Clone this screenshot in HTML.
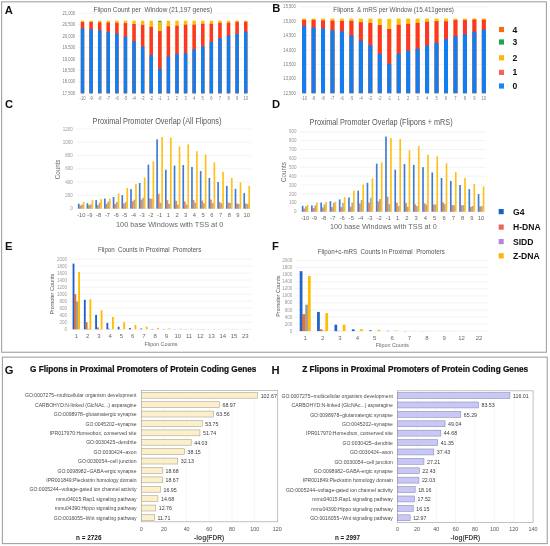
<!DOCTYPE html><html><head><meta charset="utf-8"><style>html,body{margin:0;padding:0;background:#fff;width:550px;height:546px;overflow:hidden}svg{display:block;will-change:transform}</style></head><body><svg width="550" height="546" viewBox="0 0 550 546" style="font-family:&quot;Liberation Sans&quot;,sans-serif">
<rect width="550" height="546" fill="#fff"/>
<rect x="1.6" y="1.8" width="544.8" height="350.45" fill="none" stroke="#a2a2a2" stroke-width="1.1"/>
<rect x="2.4" y="357.15" width="544.85" height="186.45" fill="none" stroke="#a2a2a2" stroke-width="1.1"/>
<text x="4.70" y="14.10" font-size="11.2" font-weight="bold" fill="#111">A</text>
<text x="272.30" y="11.80" font-size="11.2" font-weight="bold" fill="#111">B</text>
<text x="5.00" y="107.80" font-size="11.2" font-weight="bold" fill="#111">C</text>
<text x="272.10" y="107.60" font-size="11.2" font-weight="bold" fill="#111">D</text>
<text x="4.90" y="250.10" font-size="11.2" font-weight="bold" fill="#111">E</text>
<text x="272.00" y="250.00" font-size="11.2" font-weight="bold" fill="#111">F</text>
<text x="4.80" y="373.80" font-size="11.2" font-weight="bold" fill="#111">G</text>
<text x="271.40" y="373.60" font-size="11.2" font-weight="bold" fill="#111">H</text>
<text x="93.50" y="12.03" font-size="7.26" fill="#555" textLength="118.70" lengthAdjust="spacingAndGlyphs" style="white-space:pre">Flipon Count per  Window (21,197 genes)</text>
<text x="75.00" y="94.84" font-size="4.71" fill="#7a7a7a" text-anchor="end" textLength="12.54" lengthAdjust="spacingAndGlyphs">17,500</text>
<line x1="78.00" y1="81.86" x2="250.50" y2="81.86" stroke="#e6e6e6" stroke-width="0.5"/>
<text x="75.00" y="83.40" font-size="4.71" fill="#7a7a7a" text-anchor="end" textLength="12.54" lengthAdjust="spacingAndGlyphs">18,000</text>
<line x1="78.00" y1="70.42" x2="250.50" y2="70.42" stroke="#e6e6e6" stroke-width="0.5"/>
<text x="75.00" y="71.96" font-size="4.71" fill="#7a7a7a" text-anchor="end" textLength="12.54" lengthAdjust="spacingAndGlyphs">18,500</text>
<line x1="78.00" y1="58.98" x2="250.50" y2="58.98" stroke="#e6e6e6" stroke-width="0.5"/>
<text x="75.00" y="60.52" font-size="4.71" fill="#7a7a7a" text-anchor="end" textLength="12.54" lengthAdjust="spacingAndGlyphs">19,000</text>
<line x1="78.00" y1="47.54" x2="250.50" y2="47.54" stroke="#e6e6e6" stroke-width="0.5"/>
<text x="75.00" y="49.08" font-size="4.71" fill="#7a7a7a" text-anchor="end" textLength="12.54" lengthAdjust="spacingAndGlyphs">19,500</text>
<line x1="78.00" y1="36.10" x2="250.50" y2="36.10" stroke="#e6e6e6" stroke-width="0.5"/>
<text x="75.00" y="37.64" font-size="4.71" fill="#7a7a7a" text-anchor="end" textLength="12.54" lengthAdjust="spacingAndGlyphs">20,000</text>
<line x1="78.00" y1="24.66" x2="250.50" y2="24.66" stroke="#e6e6e6" stroke-width="0.5"/>
<text x="75.00" y="26.20" font-size="4.71" fill="#7a7a7a" text-anchor="end" textLength="12.54" lengthAdjust="spacingAndGlyphs">20,500</text>
<line x1="78.00" y1="13.22" x2="250.50" y2="13.22" stroke="#e6e6e6" stroke-width="0.5"/>
<text x="75.00" y="14.76" font-size="4.71" fill="#7a7a7a" text-anchor="end" textLength="12.54" lengthAdjust="spacingAndGlyphs">21,000</text>
<rect x="80.80" y="20.70" width="3.40" height="72.60" fill="#fdbf06" />
<rect x="80.80" y="22.00" width="3.40" height="71.30" fill="#fb3727" />
<rect x="80.80" y="28.30" width="3.40" height="65.00" fill="#0e7ef4" />
<text x="82.50" y="99.84" font-size="4.71" fill="#7a7a7a" text-anchor="middle" textLength="5.93" lengthAdjust="spacingAndGlyphs">-10</text>
<rect x="89.39" y="20.70" width="3.40" height="72.60" fill="#fdbf06" />
<rect x="89.39" y="22.00" width="3.40" height="71.30" fill="#fb3727" />
<rect x="89.39" y="29.40" width="3.40" height="63.90" fill="#0e7ef4" />
<text x="91.09" y="99.84" font-size="4.71" fill="#7a7a7a" text-anchor="middle" textLength="3.65" lengthAdjust="spacingAndGlyphs">-9</text>
<rect x="97.98" y="20.70" width="3.40" height="72.60" fill="#fdbf06" />
<rect x="97.98" y="22.40" width="3.40" height="70.90" fill="#fb3727" />
<rect x="97.98" y="30.30" width="3.40" height="63.00" fill="#0e7ef4" />
<text x="99.68" y="99.84" font-size="4.71" fill="#7a7a7a" text-anchor="middle" textLength="3.65" lengthAdjust="spacingAndGlyphs">-8</text>
<rect x="106.57" y="20.70" width="3.40" height="72.60" fill="#fdbf06" />
<rect x="106.57" y="22.60" width="3.40" height="70.70" fill="#fb3727" />
<rect x="106.57" y="32.10" width="3.40" height="61.20" fill="#0e7ef4" />
<text x="108.27" y="99.84" font-size="4.71" fill="#7a7a7a" text-anchor="middle" textLength="3.65" lengthAdjust="spacingAndGlyphs">-7</text>
<rect x="115.16" y="20.70" width="3.40" height="72.60" fill="#fdbf06" />
<rect x="115.16" y="22.80" width="3.40" height="70.50" fill="#fb3727" />
<rect x="115.16" y="33.40" width="3.40" height="59.90" fill="#0e7ef4" />
<text x="116.86" y="99.84" font-size="4.71" fill="#7a7a7a" text-anchor="middle" textLength="3.65" lengthAdjust="spacingAndGlyphs">-6</text>
<rect x="123.75" y="20.70" width="3.40" height="72.60" fill="#fdbf06" />
<rect x="123.75" y="23.10" width="3.40" height="70.20" fill="#fb3727" />
<rect x="123.75" y="36.70" width="3.40" height="56.60" fill="#0e7ef4" />
<text x="125.45" y="99.84" font-size="4.71" fill="#7a7a7a" text-anchor="middle" textLength="3.65" lengthAdjust="spacingAndGlyphs">-5</text>
<rect x="132.34" y="20.70" width="3.40" height="72.60" fill="#fdbf06" />
<rect x="132.34" y="24.00" width="3.40" height="69.30" fill="#fb3727" />
<rect x="132.34" y="41.00" width="3.40" height="52.30" fill="#0e7ef4" />
<text x="134.04" y="99.84" font-size="4.71" fill="#7a7a7a" text-anchor="middle" textLength="3.65" lengthAdjust="spacingAndGlyphs">-4</text>
<rect x="140.93" y="20.70" width="3.40" height="72.60" fill="#fdbf06" />
<rect x="140.93" y="24.90" width="3.40" height="68.40" fill="#fb3727" />
<rect x="140.93" y="46.60" width="3.40" height="46.70" fill="#0e7ef4" />
<text x="142.63" y="99.84" font-size="4.71" fill="#7a7a7a" text-anchor="middle" textLength="3.65" lengthAdjust="spacingAndGlyphs">-3</text>
<rect x="149.52" y="20.70" width="3.40" height="72.60" fill="#fdbf06" />
<rect x="149.52" y="26.90" width="3.40" height="66.40" fill="#fb3727" />
<rect x="149.52" y="55.00" width="3.40" height="38.30" fill="#0e7ef4" />
<text x="151.22" y="99.84" font-size="4.71" fill="#7a7a7a" text-anchor="middle" textLength="3.65" lengthAdjust="spacingAndGlyphs">-2</text>
<rect x="158.11" y="20.80" width="3.40" height="72.50" fill="#1ea450" />
<rect x="158.11" y="21.80" width="3.40" height="71.50" fill="#fdbf06" />
<rect x="158.11" y="31.10" width="3.40" height="62.20" fill="#fb3727" />
<rect x="158.11" y="68.40" width="3.40" height="24.90" fill="#0e7ef4" />
<text x="159.81" y="99.84" font-size="4.71" fill="#7a7a7a" text-anchor="middle" textLength="3.65" lengthAdjust="spacingAndGlyphs">-1</text>
<rect x="166.70" y="20.70" width="3.40" height="72.60" fill="#fdbf06" />
<rect x="166.70" y="26.30" width="3.40" height="67.00" fill="#fb3727" />
<rect x="166.70" y="56.50" width="3.40" height="36.80" fill="#0e7ef4" />
<text x="168.40" y="99.84" font-size="4.71" fill="#7a7a7a" text-anchor="middle" textLength="2.28" lengthAdjust="spacingAndGlyphs">1</text>
<rect x="175.29" y="20.70" width="3.40" height="72.60" fill="#fdbf06" />
<rect x="175.29" y="25.70" width="3.40" height="67.60" fill="#fb3727" />
<rect x="175.29" y="54.00" width="3.40" height="39.30" fill="#0e7ef4" />
<text x="176.99" y="99.84" font-size="4.71" fill="#7a7a7a" text-anchor="middle" textLength="2.28" lengthAdjust="spacingAndGlyphs">2</text>
<rect x="183.88" y="20.70" width="3.40" height="72.60" fill="#fdbf06" />
<rect x="183.88" y="24.70" width="3.40" height="68.60" fill="#fb3727" />
<rect x="183.88" y="53.10" width="3.40" height="40.20" fill="#0e7ef4" />
<text x="185.58" y="99.84" font-size="4.71" fill="#7a7a7a" text-anchor="middle" textLength="2.28" lengthAdjust="spacingAndGlyphs">3</text>
<rect x="192.47" y="20.70" width="3.40" height="72.60" fill="#fdbf06" />
<rect x="192.47" y="24.70" width="3.40" height="68.60" fill="#fb3727" />
<rect x="192.47" y="49.30" width="3.40" height="44.00" fill="#0e7ef4" />
<text x="194.17" y="99.84" font-size="4.71" fill="#7a7a7a" text-anchor="middle" textLength="2.28" lengthAdjust="spacingAndGlyphs">4</text>
<rect x="201.06" y="20.70" width="3.40" height="72.60" fill="#fdbf06" />
<rect x="201.06" y="23.80" width="3.40" height="69.50" fill="#fb3727" />
<rect x="201.06" y="46.40" width="3.40" height="46.90" fill="#0e7ef4" />
<text x="202.76" y="99.84" font-size="4.71" fill="#7a7a7a" text-anchor="middle" textLength="2.28" lengthAdjust="spacingAndGlyphs">5</text>
<rect x="209.65" y="20.70" width="3.40" height="72.60" fill="#fdbf06" />
<rect x="209.65" y="23.80" width="3.40" height="69.50" fill="#fb3727" />
<rect x="209.65" y="41.90" width="3.40" height="51.40" fill="#0e7ef4" />
<text x="211.35" y="99.84" font-size="4.71" fill="#7a7a7a" text-anchor="middle" textLength="2.28" lengthAdjust="spacingAndGlyphs">6</text>
<rect x="218.24" y="20.70" width="3.40" height="72.60" fill="#fdbf06" />
<rect x="218.24" y="22.80" width="3.40" height="70.50" fill="#fb3727" />
<rect x="218.24" y="38.10" width="3.40" height="55.20" fill="#0e7ef4" />
<text x="219.94" y="99.84" font-size="4.71" fill="#7a7a7a" text-anchor="middle" textLength="2.28" lengthAdjust="spacingAndGlyphs">7</text>
<rect x="226.83" y="20.70" width="3.40" height="72.60" fill="#fdbf06" />
<rect x="226.83" y="22.80" width="3.40" height="70.50" fill="#fb3727" />
<rect x="226.83" y="35.50" width="3.40" height="57.80" fill="#0e7ef4" />
<text x="228.53" y="99.84" font-size="4.71" fill="#7a7a7a" text-anchor="middle" textLength="2.28" lengthAdjust="spacingAndGlyphs">8</text>
<rect x="235.42" y="20.70" width="3.40" height="72.60" fill="#fdbf06" />
<rect x="235.42" y="21.80" width="3.40" height="71.50" fill="#fb3727" />
<rect x="235.42" y="33.90" width="3.40" height="59.40" fill="#0e7ef4" />
<text x="237.12" y="99.84" font-size="4.71" fill="#7a7a7a" text-anchor="middle" textLength="2.28" lengthAdjust="spacingAndGlyphs">9</text>
<rect x="244.01" y="20.70" width="3.40" height="72.60" fill="#fdbf06" />
<rect x="244.01" y="21.80" width="3.40" height="71.50" fill="#fb3727" />
<rect x="244.01" y="31.70" width="3.40" height="61.60" fill="#0e7ef4" />
<text x="245.71" y="99.84" font-size="4.71" fill="#7a7a7a" text-anchor="middle" textLength="4.56" lengthAdjust="spacingAndGlyphs">10</text>
<text x="333.30" y="12.23" font-size="7.26" fill="#555" textLength="120.60" lengthAdjust="spacingAndGlyphs" style="white-space:pre">Flipons  &amp; mRS per Window (15.411genes)</text>
<text x="295.90" y="94.74" font-size="4.71" fill="#7a7a7a" text-anchor="end" textLength="12.54" lengthAdjust="spacingAndGlyphs">12,500</text>
<line x1="299.80" y1="78.80" x2="489.00" y2="78.80" stroke="#e6e6e6" stroke-width="0.5"/>
<text x="295.90" y="80.34" font-size="4.71" fill="#7a7a7a" text-anchor="end" textLength="12.54" lengthAdjust="spacingAndGlyphs">13,000</text>
<line x1="299.80" y1="64.40" x2="489.00" y2="64.40" stroke="#e6e6e6" stroke-width="0.5"/>
<text x="295.90" y="65.94" font-size="4.71" fill="#7a7a7a" text-anchor="end" textLength="12.54" lengthAdjust="spacingAndGlyphs">13,500</text>
<line x1="299.80" y1="50.00" x2="489.00" y2="50.00" stroke="#e6e6e6" stroke-width="0.5"/>
<text x="295.90" y="51.54" font-size="4.71" fill="#7a7a7a" text-anchor="end" textLength="12.54" lengthAdjust="spacingAndGlyphs">14,000</text>
<line x1="299.80" y1="35.60" x2="489.00" y2="35.60" stroke="#e6e6e6" stroke-width="0.5"/>
<text x="295.90" y="37.14" font-size="4.71" fill="#7a7a7a" text-anchor="end" textLength="12.54" lengthAdjust="spacingAndGlyphs">14,500</text>
<line x1="299.80" y1="21.20" x2="489.00" y2="21.20" stroke="#e6e6e6" stroke-width="0.5"/>
<text x="295.90" y="22.74" font-size="4.71" fill="#7a7a7a" text-anchor="end" textLength="12.54" lengthAdjust="spacingAndGlyphs">15,000</text>
<line x1="299.80" y1="6.80" x2="489.00" y2="6.80" stroke="#e6e6e6" stroke-width="0.5"/>
<text x="295.90" y="8.34" font-size="4.71" fill="#7a7a7a" text-anchor="end" textLength="12.54" lengthAdjust="spacingAndGlyphs">15,500</text>
<rect x="302.10" y="18.60" width="4.00" height="74.60" fill="#fdbf06" />
<rect x="302.10" y="19.90" width="4.00" height="73.30" fill="#fb3727" />
<rect x="302.10" y="26.00" width="4.00" height="67.20" fill="#0e7ef4" />
<text x="304.10" y="99.84" font-size="4.71" fill="#7a7a7a" text-anchor="middle" textLength="5.93" lengthAdjust="spacingAndGlyphs">-10</text>
<rect x="311.56" y="18.60" width="4.00" height="74.60" fill="#fdbf06" />
<rect x="311.56" y="19.90" width="4.00" height="73.30" fill="#fb3727" />
<rect x="311.56" y="27.60" width="4.00" height="65.60" fill="#0e7ef4" />
<text x="313.56" y="99.84" font-size="4.71" fill="#7a7a7a" text-anchor="middle" textLength="3.65" lengthAdjust="spacingAndGlyphs">-9</text>
<rect x="321.02" y="18.60" width="4.00" height="74.60" fill="#fdbf06" />
<rect x="321.02" y="20.50" width="4.00" height="72.70" fill="#fb3727" />
<rect x="321.02" y="28.40" width="4.00" height="64.80" fill="#0e7ef4" />
<text x="323.02" y="99.84" font-size="4.71" fill="#7a7a7a" text-anchor="middle" textLength="3.65" lengthAdjust="spacingAndGlyphs">-8</text>
<rect x="330.48" y="18.60" width="4.00" height="74.60" fill="#fdbf06" />
<rect x="330.48" y="20.70" width="4.00" height="72.50" fill="#fb3727" />
<rect x="330.48" y="30.30" width="4.00" height="62.90" fill="#0e7ef4" />
<text x="332.48" y="99.84" font-size="4.71" fill="#7a7a7a" text-anchor="middle" textLength="3.65" lengthAdjust="spacingAndGlyphs">-7</text>
<rect x="339.94" y="18.60" width="4.00" height="74.60" fill="#fdbf06" />
<rect x="339.94" y="20.90" width="4.00" height="72.30" fill="#fb3727" />
<rect x="339.94" y="31.40" width="4.00" height="61.80" fill="#0e7ef4" />
<text x="341.94" y="99.84" font-size="4.71" fill="#7a7a7a" text-anchor="middle" textLength="3.65" lengthAdjust="spacingAndGlyphs">-6</text>
<rect x="349.40" y="18.60" width="4.00" height="74.60" fill="#fdbf06" />
<rect x="349.40" y="20.90" width="4.00" height="72.30" fill="#fb3727" />
<rect x="349.40" y="35.50" width="4.00" height="57.70" fill="#0e7ef4" />
<text x="351.40" y="99.84" font-size="4.71" fill="#7a7a7a" text-anchor="middle" textLength="3.65" lengthAdjust="spacingAndGlyphs">-5</text>
<rect x="358.86" y="18.60" width="4.00" height="74.60" fill="#fdbf06" />
<rect x="358.86" y="22.20" width="4.00" height="71.00" fill="#fb3727" />
<rect x="358.86" y="40.70" width="4.00" height="52.50" fill="#0e7ef4" />
<text x="360.86" y="99.84" font-size="4.71" fill="#7a7a7a" text-anchor="middle" textLength="3.65" lengthAdjust="spacingAndGlyphs">-4</text>
<rect x="368.32" y="18.60" width="4.00" height="74.60" fill="#fdbf06" />
<rect x="368.32" y="22.90" width="4.00" height="70.30" fill="#fb3727" />
<rect x="368.32" y="45.20" width="4.00" height="48.00" fill="#0e7ef4" />
<text x="370.32" y="99.84" font-size="4.71" fill="#7a7a7a" text-anchor="middle" textLength="3.65" lengthAdjust="spacingAndGlyphs">-3</text>
<rect x="377.78" y="18.60" width="4.00" height="74.60" fill="#fdbf06" />
<rect x="377.78" y="25.10" width="4.00" height="68.10" fill="#fb3727" />
<rect x="377.78" y="53.90" width="4.00" height="39.30" fill="#0e7ef4" />
<text x="379.78" y="99.84" font-size="4.71" fill="#7a7a7a" text-anchor="middle" textLength="3.65" lengthAdjust="spacingAndGlyphs">-2</text>
<rect x="387.24" y="18.90" width="4.00" height="74.30" fill="#fdbf06" />
<rect x="387.24" y="29.00" width="4.00" height="64.20" fill="#fb3727" />
<rect x="387.24" y="63.90" width="4.00" height="29.30" fill="#0e7ef4" />
<text x="389.24" y="99.84" font-size="4.71" fill="#7a7a7a" text-anchor="middle" textLength="3.65" lengthAdjust="spacingAndGlyphs">-1</text>
<rect x="396.70" y="18.60" width="4.00" height="74.60" fill="#fdbf06" />
<rect x="396.70" y="24.80" width="4.00" height="68.40" fill="#fb3727" />
<rect x="396.70" y="53.70" width="4.00" height="39.50" fill="#0e7ef4" />
<text x="398.70" y="99.84" font-size="4.71" fill="#7a7a7a" text-anchor="middle" textLength="2.28" lengthAdjust="spacingAndGlyphs">1</text>
<rect x="406.16" y="18.60" width="4.00" height="74.60" fill="#fdbf06" />
<rect x="406.16" y="23.90" width="4.00" height="69.30" fill="#fb3727" />
<rect x="406.16" y="50.80" width="4.00" height="42.40" fill="#0e7ef4" />
<text x="408.16" y="99.84" font-size="4.71" fill="#7a7a7a" text-anchor="middle" textLength="2.28" lengthAdjust="spacingAndGlyphs">2</text>
<rect x="415.62" y="18.60" width="4.00" height="74.60" fill="#fdbf06" />
<rect x="415.62" y="22.90" width="4.00" height="70.30" fill="#fb3727" />
<rect x="415.62" y="48.80" width="4.00" height="44.40" fill="#0e7ef4" />
<text x="417.62" y="99.84" font-size="4.71" fill="#7a7a7a" text-anchor="middle" textLength="2.28" lengthAdjust="spacingAndGlyphs">3</text>
<rect x="425.08" y="18.60" width="4.00" height="74.60" fill="#fdbf06" />
<rect x="425.08" y="21.80" width="4.00" height="71.40" fill="#fb3727" />
<rect x="425.08" y="45.80" width="4.00" height="47.40" fill="#0e7ef4" />
<text x="427.08" y="99.84" font-size="4.71" fill="#7a7a7a" text-anchor="middle" textLength="2.28" lengthAdjust="spacingAndGlyphs">4</text>
<rect x="434.54" y="18.60" width="4.00" height="74.60" fill="#fdbf06" />
<rect x="434.54" y="21.20" width="4.00" height="72.00" fill="#fb3727" />
<rect x="434.54" y="42.80" width="4.00" height="50.40" fill="#0e7ef4" />
<text x="436.54" y="99.84" font-size="4.71" fill="#7a7a7a" text-anchor="middle" textLength="2.28" lengthAdjust="spacingAndGlyphs">5</text>
<rect x="444.00" y="18.60" width="4.00" height="74.60" fill="#fdbf06" />
<rect x="444.00" y="21.40" width="4.00" height="71.80" fill="#fb3727" />
<rect x="444.00" y="39.30" width="4.00" height="53.90" fill="#0e7ef4" />
<text x="446.00" y="99.84" font-size="4.71" fill="#7a7a7a" text-anchor="middle" textLength="2.28" lengthAdjust="spacingAndGlyphs">6</text>
<rect x="453.46" y="18.60" width="4.00" height="74.60" fill="#fdbf06" />
<rect x="453.46" y="20.10" width="4.00" height="73.10" fill="#fb3727" />
<rect x="453.46" y="36.30" width="4.00" height="56.90" fill="#0e7ef4" />
<text x="455.46" y="99.84" font-size="4.71" fill="#7a7a7a" text-anchor="middle" textLength="2.28" lengthAdjust="spacingAndGlyphs">7</text>
<rect x="462.92" y="18.60" width="4.00" height="74.60" fill="#fdbf06" />
<rect x="462.92" y="20.10" width="4.00" height="73.10" fill="#fb3727" />
<rect x="462.92" y="34.20" width="4.00" height="59.00" fill="#0e7ef4" />
<text x="464.92" y="99.84" font-size="4.71" fill="#7a7a7a" text-anchor="middle" textLength="2.28" lengthAdjust="spacingAndGlyphs">8</text>
<rect x="472.38" y="18.60" width="4.00" height="74.60" fill="#fdbf06" />
<rect x="472.38" y="19.50" width="4.00" height="73.70" fill="#fb3727" />
<rect x="472.38" y="31.60" width="4.00" height="61.60" fill="#0e7ef4" />
<text x="474.38" y="99.84" font-size="4.71" fill="#7a7a7a" text-anchor="middle" textLength="2.28" lengthAdjust="spacingAndGlyphs">9</text>
<rect x="481.84" y="18.60" width="4.00" height="74.60" fill="#fdbf06" />
<rect x="481.84" y="19.70" width="4.00" height="73.50" fill="#fb3727" />
<rect x="481.84" y="29.80" width="4.00" height="63.40" fill="#0e7ef4" />
<text x="483.84" y="99.84" font-size="4.71" fill="#7a7a7a" text-anchor="middle" textLength="4.56" lengthAdjust="spacingAndGlyphs">10</text>
<rect x="499.00" y="26.90" width="5.00" height="5.20" fill="#fa6a12" />
<text x="512.60" y="32.51" font-size="8.60" fill="#111" font-weight="bold">4</text>
<rect x="499.00" y="39.40" width="5.00" height="5.20" fill="#1fa64a" />
<text x="512.60" y="45.01" font-size="8.60" fill="#111" font-weight="bold">3</text>
<rect x="499.00" y="55.20" width="5.00" height="5.20" fill="#fdb70f" />
<text x="512.60" y="60.81" font-size="8.60" fill="#111" font-weight="bold">2</text>
<rect x="499.00" y="69.80" width="5.00" height="5.20" fill="#f36558" />
<text x="512.60" y="75.41" font-size="8.60" fill="#111" font-weight="bold">1</text>
<rect x="499.00" y="83.40" width="5.00" height="5.20" fill="#1d86ee" />
<text x="512.60" y="89.01" font-size="8.60" fill="#111" font-weight="bold">0</text>
<text x="92.60" y="124.21" font-size="8.18" fill="#595959" textLength="128.80" lengthAdjust="spacingAndGlyphs">Proximal Promoter Overlap (All Flipons)</text>
<line x1="76.40" y1="208.60" x2="251.00" y2="208.60" stroke="#e6e6e6" stroke-width="0.5"/>
<text x="72.70" y="210.17" font-size="4.50" fill="#999" text-anchor="end">0</text>
<line x1="76.40" y1="195.32" x2="251.00" y2="195.32" stroke="#e6e6e6" stroke-width="0.5"/>
<text x="72.70" y="196.89" font-size="4.50" fill="#999" text-anchor="end">200</text>
<line x1="76.40" y1="182.04" x2="251.00" y2="182.04" stroke="#e6e6e6" stroke-width="0.5"/>
<text x="72.70" y="183.61" font-size="4.50" fill="#999" text-anchor="end">400</text>
<line x1="76.40" y1="168.76" x2="251.00" y2="168.76" stroke="#e6e6e6" stroke-width="0.5"/>
<text x="72.70" y="170.33" font-size="4.50" fill="#999" text-anchor="end">600</text>
<line x1="76.40" y1="155.48" x2="251.00" y2="155.48" stroke="#e6e6e6" stroke-width="0.5"/>
<text x="72.70" y="157.05" font-size="4.50" fill="#999" text-anchor="end">800</text>
<line x1="76.40" y1="142.20" x2="251.00" y2="142.20" stroke="#e6e6e6" stroke-width="0.5"/>
<text x="72.70" y="143.77" font-size="4.50" fill="#999" text-anchor="end">1000</text>
<line x1="76.40" y1="128.92" x2="251.00" y2="128.92" stroke="#e6e6e6" stroke-width="0.5"/>
<text x="72.70" y="130.50" font-size="4.50" fill="#999" text-anchor="end">1200</text>
<rect x="77.90" y="203.69" width="1.66" height="4.91" fill="#3e7bd2" />
<rect x="79.55" y="205.61" width="0.70" height="2.99" fill="#3e7bd2" />
<rect x="79.56" y="205.61" width="1.66" height="2.99" fill="#ee8748" />
<rect x="81.21" y="205.61" width="0.70" height="2.99" fill="#ee8748" />
<rect x="81.22" y="204.48" width="1.66" height="4.12" fill="#a9a9a9" />
<rect x="82.87" y="204.48" width="0.70" height="4.12" fill="#a9a9a9" />
<rect x="82.88" y="201.89" width="1.66" height="6.71" fill="#fec11a" />
<rect x="86.61" y="203.22" width="1.66" height="5.38" fill="#3e7bd2" />
<rect x="88.26" y="205.28" width="0.70" height="3.32" fill="#3e7bd2" />
<rect x="88.27" y="205.28" width="1.66" height="3.32" fill="#ee8748" />
<rect x="89.92" y="205.28" width="0.70" height="3.32" fill="#ee8748" />
<rect x="89.93" y="204.22" width="1.66" height="4.38" fill="#a9a9a9" />
<rect x="91.58" y="204.22" width="0.70" height="4.38" fill="#a9a9a9" />
<rect x="91.59" y="200.10" width="1.66" height="8.50" fill="#fec11a" />
<rect x="95.32" y="200.10" width="1.66" height="8.50" fill="#3e7bd2" />
<rect x="96.97" y="205.15" width="0.70" height="3.45" fill="#3e7bd2" />
<rect x="96.98" y="205.15" width="1.66" height="3.45" fill="#ee8748" />
<rect x="98.63" y="205.15" width="0.70" height="3.45" fill="#ee8748" />
<rect x="98.64" y="202.62" width="1.66" height="5.98" fill="#a9a9a9" />
<rect x="100.29" y="202.62" width="0.70" height="5.98" fill="#a9a9a9" />
<rect x="100.30" y="199.17" width="1.66" height="9.43" fill="#fec11a" />
<rect x="104.03" y="198.57" width="1.66" height="10.03" fill="#3e7bd2" />
<rect x="105.68" y="204.08" width="0.70" height="4.52" fill="#3e7bd2" />
<rect x="105.69" y="204.08" width="1.66" height="4.52" fill="#ee8748" />
<rect x="107.34" y="204.08" width="0.70" height="4.52" fill="#ee8748" />
<rect x="107.35" y="201.76" width="1.66" height="6.84" fill="#a9a9a9" />
<rect x="109.00" y="201.76" width="0.70" height="6.84" fill="#a9a9a9" />
<rect x="109.01" y="198.57" width="1.66" height="10.03" fill="#fec11a" />
<rect x="112.74" y="196.98" width="1.66" height="11.62" fill="#3e7bd2" />
<rect x="114.39" y="203.95" width="0.70" height="4.65" fill="#3e7bd2" />
<rect x="114.40" y="203.95" width="1.66" height="4.65" fill="#ee8748" />
<rect x="116.05" y="203.95" width="0.70" height="4.65" fill="#ee8748" />
<rect x="116.06" y="201.96" width="1.66" height="6.64" fill="#a9a9a9" />
<rect x="117.71" y="201.96" width="0.70" height="6.64" fill="#a9a9a9" />
<rect x="117.72" y="193.66" width="1.66" height="14.94" fill="#fec11a" />
<rect x="121.45" y="195.19" width="1.66" height="13.41" fill="#3e7bd2" />
<rect x="123.10" y="203.62" width="0.70" height="4.98" fill="#3e7bd2" />
<rect x="123.11" y="203.62" width="1.66" height="4.98" fill="#ee8748" />
<rect x="124.76" y="203.62" width="0.70" height="4.98" fill="#ee8748" />
<rect x="124.77" y="201.96" width="1.66" height="6.64" fill="#a9a9a9" />
<rect x="126.42" y="201.96" width="0.70" height="6.64" fill="#a9a9a9" />
<rect x="126.43" y="187.88" width="1.66" height="20.72" fill="#fec11a" />
<rect x="130.16" y="189.14" width="1.66" height="19.46" fill="#3e7bd2" />
<rect x="131.81" y="201.30" width="0.70" height="7.30" fill="#3e7bd2" />
<rect x="131.82" y="201.30" width="1.66" height="7.30" fill="#ee8748" />
<rect x="133.47" y="201.30" width="0.70" height="7.30" fill="#ee8748" />
<rect x="133.48" y="199.70" width="1.66" height="8.90" fill="#a9a9a9" />
<rect x="135.13" y="199.70" width="0.70" height="8.90" fill="#a9a9a9" />
<rect x="135.14" y="183.77" width="1.66" height="24.83" fill="#fec11a" />
<rect x="138.87" y="182.97" width="1.66" height="25.63" fill="#3e7bd2" />
<rect x="140.52" y="199.70" width="0.70" height="8.90" fill="#3e7bd2" />
<rect x="140.53" y="199.70" width="1.66" height="8.90" fill="#ee8748" />
<rect x="142.18" y="199.70" width="0.70" height="8.90" fill="#ee8748" />
<rect x="142.19" y="197.71" width="1.66" height="10.89" fill="#a9a9a9" />
<rect x="143.84" y="197.71" width="0.70" height="10.89" fill="#a9a9a9" />
<rect x="143.85" y="177.52" width="1.66" height="31.08" fill="#fec11a" />
<rect x="147.58" y="164.58" width="1.66" height="44.02" fill="#3e7bd2" />
<rect x="149.23" y="198.51" width="0.70" height="10.09" fill="#3e7bd2" />
<rect x="149.24" y="198.51" width="1.66" height="10.09" fill="#ee8748" />
<rect x="150.89" y="198.91" width="0.70" height="9.69" fill="#ee8748" />
<rect x="150.90" y="198.91" width="1.66" height="9.69" fill="#a9a9a9" />
<rect x="152.55" y="198.91" width="0.70" height="9.69" fill="#a9a9a9" />
<rect x="152.56" y="161.46" width="1.66" height="47.14" fill="#fec11a" />
<rect x="156.29" y="139.41" width="1.66" height="69.19" fill="#3e7bd2" />
<rect x="157.94" y="193.86" width="0.70" height="14.74" fill="#3e7bd2" />
<rect x="157.95" y="193.86" width="1.66" height="14.74" fill="#ee8748" />
<rect x="159.60" y="202.82" width="0.70" height="5.78" fill="#ee8748" />
<rect x="159.61" y="202.82" width="1.66" height="5.78" fill="#a9a9a9" />
<rect x="161.26" y="202.82" width="0.70" height="5.78" fill="#a9a9a9" />
<rect x="161.27" y="137.09" width="1.66" height="71.51" fill="#fec11a" />
<rect x="165.00" y="169.76" width="1.66" height="38.84" fill="#3e7bd2" />
<rect x="166.65" y="200.30" width="0.70" height="8.30" fill="#3e7bd2" />
<rect x="166.66" y="200.30" width="1.66" height="8.30" fill="#ee8748" />
<rect x="168.31" y="203.89" width="0.70" height="4.71" fill="#ee8748" />
<rect x="168.32" y="203.89" width="1.66" height="4.71" fill="#a9a9a9" />
<rect x="169.97" y="203.89" width="0.70" height="4.71" fill="#a9a9a9" />
<rect x="169.98" y="137.55" width="1.66" height="71.05" fill="#fec11a" />
<rect x="173.71" y="165.57" width="1.66" height="43.03" fill="#3e7bd2" />
<rect x="175.36" y="200.83" width="0.70" height="7.77" fill="#3e7bd2" />
<rect x="175.37" y="200.83" width="1.66" height="7.77" fill="#ee8748" />
<rect x="177.02" y="204.68" width="0.70" height="3.92" fill="#ee8748" />
<rect x="177.03" y="204.68" width="1.66" height="3.92" fill="#a9a9a9" />
<rect x="178.68" y="204.68" width="0.70" height="3.92" fill="#a9a9a9" />
<rect x="178.69" y="146.38" width="1.66" height="62.22" fill="#fec11a" />
<rect x="182.42" y="165.04" width="1.66" height="43.56" fill="#3e7bd2" />
<rect x="184.07" y="201.63" width="0.70" height="6.97" fill="#3e7bd2" />
<rect x="184.08" y="201.63" width="1.66" height="6.97" fill="#ee8748" />
<rect x="185.73" y="204.68" width="0.70" height="3.92" fill="#ee8748" />
<rect x="185.74" y="204.68" width="1.66" height="3.92" fill="#a9a9a9" />
<rect x="187.39" y="204.68" width="0.70" height="3.92" fill="#a9a9a9" />
<rect x="187.40" y="144.39" width="1.66" height="64.21" fill="#fec11a" />
<rect x="191.13" y="166.97" width="1.66" height="41.63" fill="#3e7bd2" />
<rect x="192.78" y="200.03" width="0.70" height="8.57" fill="#3e7bd2" />
<rect x="192.79" y="200.03" width="1.66" height="8.57" fill="#ee8748" />
<rect x="194.44" y="202.76" width="0.70" height="5.84" fill="#ee8748" />
<rect x="194.45" y="202.76" width="1.66" height="5.84" fill="#a9a9a9" />
<rect x="196.10" y="202.76" width="0.70" height="5.84" fill="#a9a9a9" />
<rect x="196.11" y="151.23" width="1.66" height="57.37" fill="#fec11a" />
<rect x="199.84" y="171.08" width="1.66" height="37.52" fill="#3e7bd2" />
<rect x="201.49" y="200.63" width="0.70" height="7.97" fill="#3e7bd2" />
<rect x="201.50" y="200.63" width="1.66" height="7.97" fill="#ee8748" />
<rect x="203.15" y="203.29" width="0.70" height="5.31" fill="#ee8748" />
<rect x="203.16" y="203.29" width="1.66" height="5.31" fill="#a9a9a9" />
<rect x="204.81" y="203.29" width="0.70" height="5.31" fill="#a9a9a9" />
<rect x="204.82" y="154.62" width="1.66" height="53.98" fill="#fec11a" />
<rect x="208.55" y="177.86" width="1.66" height="30.74" fill="#3e7bd2" />
<rect x="210.20" y="199.64" width="0.70" height="8.96" fill="#3e7bd2" />
<rect x="210.21" y="199.64" width="1.66" height="8.96" fill="#ee8748" />
<rect x="211.86" y="202.96" width="0.70" height="5.64" fill="#ee8748" />
<rect x="211.87" y="202.96" width="1.66" height="5.64" fill="#a9a9a9" />
<rect x="213.52" y="202.96" width="0.70" height="5.64" fill="#a9a9a9" />
<rect x="213.53" y="162.32" width="1.66" height="46.28" fill="#fec11a" />
<rect x="217.26" y="182.04" width="1.66" height="26.56" fill="#3e7bd2" />
<rect x="218.91" y="202.23" width="0.70" height="6.37" fill="#3e7bd2" />
<rect x="218.92" y="202.23" width="1.66" height="6.37" fill="#ee8748" />
<rect x="220.57" y="203.29" width="0.70" height="5.31" fill="#ee8748" />
<rect x="220.58" y="203.29" width="1.66" height="5.31" fill="#a9a9a9" />
<rect x="222.23" y="203.29" width="0.70" height="5.31" fill="#a9a9a9" />
<rect x="222.24" y="171.88" width="1.66" height="36.72" fill="#fec11a" />
<rect x="225.97" y="185.89" width="1.66" height="22.71" fill="#3e7bd2" />
<rect x="227.62" y="202.62" width="0.70" height="5.98" fill="#3e7bd2" />
<rect x="227.63" y="202.62" width="1.66" height="5.98" fill="#ee8748" />
<rect x="229.28" y="202.96" width="0.70" height="5.64" fill="#ee8748" />
<rect x="229.29" y="202.96" width="1.66" height="5.64" fill="#a9a9a9" />
<rect x="230.94" y="202.96" width="0.70" height="5.64" fill="#a9a9a9" />
<rect x="230.95" y="177.86" width="1.66" height="30.74" fill="#fec11a" />
<rect x="234.68" y="188.88" width="1.66" height="19.72" fill="#3e7bd2" />
<rect x="236.33" y="203.62" width="0.70" height="4.98" fill="#3e7bd2" />
<rect x="236.34" y="203.62" width="1.66" height="4.98" fill="#ee8748" />
<rect x="237.99" y="203.95" width="0.70" height="4.65" fill="#ee8748" />
<rect x="238.00" y="203.95" width="1.66" height="4.65" fill="#a9a9a9" />
<rect x="239.65" y="203.95" width="0.70" height="4.65" fill="#a9a9a9" />
<rect x="239.66" y="182.44" width="1.66" height="26.16" fill="#fec11a" />
<rect x="243.39" y="193.13" width="1.66" height="15.47" fill="#3e7bd2" />
<rect x="245.04" y="203.62" width="0.70" height="4.98" fill="#3e7bd2" />
<rect x="245.05" y="203.62" width="1.66" height="4.98" fill="#ee8748" />
<rect x="246.70" y="204.08" width="0.70" height="4.52" fill="#ee8748" />
<rect x="246.71" y="204.08" width="1.66" height="4.52" fill="#a9a9a9" />
<rect x="248.36" y="204.08" width="0.70" height="4.52" fill="#a9a9a9" />
<rect x="248.37" y="185.89" width="1.66" height="22.71" fill="#fec11a" />
<text x="81.20" y="217.03" font-size="5.80" fill="#666" text-anchor="middle">-10</text>
<text x="89.91" y="217.03" font-size="5.80" fill="#666" text-anchor="middle">-9</text>
<text x="98.62" y="217.03" font-size="5.80" fill="#666" text-anchor="middle">-8</text>
<text x="107.33" y="217.03" font-size="5.80" fill="#666" text-anchor="middle">-7</text>
<text x="116.04" y="217.03" font-size="5.80" fill="#666" text-anchor="middle">-6</text>
<text x="124.75" y="217.03" font-size="5.80" fill="#666" text-anchor="middle">-5</text>
<text x="133.46" y="217.03" font-size="5.80" fill="#666" text-anchor="middle">-4</text>
<text x="142.17" y="217.03" font-size="5.80" fill="#666" text-anchor="middle">-3</text>
<text x="150.88" y="217.03" font-size="5.80" fill="#666" text-anchor="middle">-2</text>
<text x="159.59" y="217.03" font-size="5.80" fill="#666" text-anchor="middle">-1</text>
<text x="168.30" y="217.03" font-size="5.80" fill="#666" text-anchor="middle">1</text>
<text x="177.01" y="217.03" font-size="5.80" fill="#666" text-anchor="middle">2</text>
<text x="185.72" y="217.03" font-size="5.80" fill="#666" text-anchor="middle">3</text>
<text x="194.43" y="217.03" font-size="5.80" fill="#666" text-anchor="middle">4</text>
<text x="203.14" y="217.03" font-size="5.80" fill="#666" text-anchor="middle">5</text>
<text x="211.85" y="217.03" font-size="5.80" fill="#666" text-anchor="middle">6</text>
<text x="220.56" y="217.03" font-size="5.80" fill="#666" text-anchor="middle">7</text>
<text x="229.27" y="217.03" font-size="5.80" fill="#666" text-anchor="middle">8</text>
<text x="237.98" y="217.03" font-size="5.80" fill="#666" text-anchor="middle">9</text>
<text x="246.69" y="217.03" font-size="5.80" fill="#666" text-anchor="middle">10</text>
<text x="57.60" y="171.85" font-size="7.00" fill="#666" text-anchor="middle" textLength="19.50" lengthAdjust="spacingAndGlyphs" transform="rotate(-90 57.60 169.40)">Counts</text>
<text x="116.00" y="227.33" font-size="7.80" fill="#666" textLength="107.30" lengthAdjust="spacingAndGlyphs">100 base Windows with TSS at 0</text>
<text x="309.60" y="125.31" font-size="8.18" fill="#595959" textLength="143.00" lengthAdjust="spacingAndGlyphs">Proximal Promoter Overlap (Flipons + mRS)</text>
<line x1="300.00" y1="211.70" x2="486.00" y2="211.70" stroke="#e6e6e6" stroke-width="0.5"/>
<text x="296.40" y="213.27" font-size="4.50" fill="#999" text-anchor="end">0</text>
<line x1="300.00" y1="202.82" x2="486.00" y2="202.82" stroke="#e6e6e6" stroke-width="0.5"/>
<text x="296.40" y="204.39" font-size="4.50" fill="#999" text-anchor="end">100</text>
<line x1="300.00" y1="193.94" x2="486.00" y2="193.94" stroke="#e6e6e6" stroke-width="0.5"/>
<text x="296.40" y="195.51" font-size="4.50" fill="#999" text-anchor="end">200</text>
<line x1="300.00" y1="185.06" x2="486.00" y2="185.06" stroke="#e6e6e6" stroke-width="0.5"/>
<text x="296.40" y="186.63" font-size="4.50" fill="#999" text-anchor="end">300</text>
<line x1="300.00" y1="176.18" x2="486.00" y2="176.18" stroke="#e6e6e6" stroke-width="0.5"/>
<text x="296.40" y="177.75" font-size="4.50" fill="#999" text-anchor="end">400</text>
<line x1="300.00" y1="167.30" x2="486.00" y2="167.30" stroke="#e6e6e6" stroke-width="0.5"/>
<text x="296.40" y="168.87" font-size="4.50" fill="#999" text-anchor="end">500</text>
<line x1="300.00" y1="158.42" x2="486.00" y2="158.42" stroke="#e6e6e6" stroke-width="0.5"/>
<text x="296.40" y="159.99" font-size="4.50" fill="#999" text-anchor="end">600</text>
<line x1="300.00" y1="149.54" x2="486.00" y2="149.54" stroke="#e6e6e6" stroke-width="0.5"/>
<text x="296.40" y="151.11" font-size="4.50" fill="#999" text-anchor="end">700</text>
<line x1="300.00" y1="140.66" x2="486.00" y2="140.66" stroke="#e6e6e6" stroke-width="0.5"/>
<text x="296.40" y="142.23" font-size="4.50" fill="#999" text-anchor="end">800</text>
<line x1="300.00" y1="131.78" x2="486.00" y2="131.78" stroke="#e6e6e6" stroke-width="0.5"/>
<text x="296.40" y="133.35" font-size="4.50" fill="#999" text-anchor="end">900</text>
<rect x="301.80" y="205.75" width="1.66" height="5.95" fill="#3e7bd2" />
<rect x="303.45" y="208.59" width="0.70" height="3.11" fill="#3e7bd2" />
<rect x="303.46" y="208.59" width="1.66" height="3.11" fill="#ee8748" />
<rect x="305.11" y="208.59" width="0.70" height="3.11" fill="#ee8748" />
<rect x="305.12" y="206.28" width="1.66" height="5.42" fill="#a9a9a9" />
<rect x="306.77" y="206.28" width="0.70" height="5.42" fill="#a9a9a9" />
<rect x="306.78" y="204.77" width="1.66" height="6.93" fill="#fec11a" />
<rect x="311.06" y="205.40" width="1.66" height="6.30" fill="#3e7bd2" />
<rect x="312.71" y="208.15" width="0.70" height="3.55" fill="#3e7bd2" />
<rect x="312.72" y="208.15" width="1.66" height="3.55" fill="#ee8748" />
<rect x="314.37" y="208.15" width="0.70" height="3.55" fill="#ee8748" />
<rect x="314.38" y="205.40" width="1.66" height="6.30" fill="#a9a9a9" />
<rect x="316.03" y="205.40" width="0.70" height="6.30" fill="#a9a9a9" />
<rect x="316.04" y="202.64" width="1.66" height="9.06" fill="#fec11a" />
<rect x="320.32" y="202.64" width="1.66" height="9.06" fill="#3e7bd2" />
<rect x="321.97" y="207.53" width="0.70" height="4.17" fill="#3e7bd2" />
<rect x="321.98" y="207.53" width="1.66" height="4.17" fill="#ee8748" />
<rect x="323.63" y="207.53" width="0.70" height="4.17" fill="#ee8748" />
<rect x="323.64" y="204.42" width="1.66" height="7.28" fill="#a9a9a9" />
<rect x="325.29" y="204.42" width="0.70" height="7.28" fill="#a9a9a9" />
<rect x="325.30" y="202.11" width="1.66" height="9.59" fill="#fec11a" />
<rect x="329.58" y="201.22" width="1.66" height="10.48" fill="#3e7bd2" />
<rect x="331.23" y="207.17" width="0.70" height="4.53" fill="#3e7bd2" />
<rect x="331.24" y="207.17" width="1.66" height="4.53" fill="#ee8748" />
<rect x="332.89" y="207.17" width="0.70" height="4.53" fill="#ee8748" />
<rect x="332.90" y="203.00" width="1.66" height="8.70" fill="#a9a9a9" />
<rect x="334.55" y="203.00" width="0.70" height="8.70" fill="#a9a9a9" />
<rect x="334.56" y="201.75" width="1.66" height="9.95" fill="#fec11a" />
<rect x="338.84" y="199.45" width="1.66" height="12.25" fill="#3e7bd2" />
<rect x="340.49" y="207.17" width="0.70" height="4.53" fill="#3e7bd2" />
<rect x="340.50" y="207.17" width="1.66" height="4.53" fill="#ee8748" />
<rect x="342.15" y="207.17" width="0.70" height="4.53" fill="#ee8748" />
<rect x="342.16" y="203.00" width="1.66" height="8.70" fill="#a9a9a9" />
<rect x="343.81" y="203.00" width="0.70" height="8.70" fill="#a9a9a9" />
<rect x="343.82" y="197.23" width="1.66" height="14.47" fill="#fec11a" />
<rect x="348.10" y="197.49" width="1.66" height="14.21" fill="#3e7bd2" />
<rect x="349.75" y="206.82" width="0.70" height="4.88" fill="#3e7bd2" />
<rect x="349.76" y="206.82" width="1.66" height="4.88" fill="#ee8748" />
<rect x="351.41" y="206.82" width="0.70" height="4.88" fill="#ee8748" />
<rect x="351.42" y="202.64" width="1.66" height="9.06" fill="#a9a9a9" />
<rect x="353.07" y="202.64" width="0.70" height="9.06" fill="#a9a9a9" />
<rect x="353.08" y="190.48" width="1.66" height="21.22" fill="#fec11a" />
<rect x="357.36" y="190.65" width="1.66" height="21.05" fill="#3e7bd2" />
<rect x="359.01" y="203.71" width="0.70" height="7.99" fill="#3e7bd2" />
<rect x="359.02" y="203.71" width="1.66" height="7.99" fill="#ee8748" />
<rect x="360.67" y="203.71" width="0.70" height="7.99" fill="#ee8748" />
<rect x="360.68" y="200.07" width="1.66" height="11.63" fill="#a9a9a9" />
<rect x="362.33" y="200.07" width="0.70" height="11.63" fill="#a9a9a9" />
<rect x="362.34" y="184.53" width="1.66" height="27.17" fill="#fec11a" />
<rect x="366.62" y="182.84" width="1.66" height="28.86" fill="#3e7bd2" />
<rect x="368.27" y="202.73" width="0.70" height="8.97" fill="#3e7bd2" />
<rect x="368.28" y="202.73" width="1.66" height="8.97" fill="#ee8748" />
<rect x="369.93" y="202.73" width="0.70" height="8.97" fill="#ee8748" />
<rect x="369.94" y="197.85" width="1.66" height="13.85" fill="#a9a9a9" />
<rect x="371.59" y="197.85" width="0.70" height="13.85" fill="#a9a9a9" />
<rect x="371.60" y="178.31" width="1.66" height="33.39" fill="#fec11a" />
<rect x="375.88" y="163.66" width="1.66" height="48.04" fill="#3e7bd2" />
<rect x="377.53" y="201.40" width="0.70" height="10.30" fill="#3e7bd2" />
<rect x="377.54" y="201.40" width="1.66" height="10.30" fill="#ee8748" />
<rect x="379.19" y="201.40" width="0.70" height="10.30" fill="#ee8748" />
<rect x="379.20" y="199.00" width="1.66" height="12.70" fill="#a9a9a9" />
<rect x="380.85" y="199.00" width="0.70" height="12.70" fill="#a9a9a9" />
<rect x="380.86" y="162.33" width="1.66" height="49.37" fill="#fec11a" />
<rect x="385.14" y="136.58" width="1.66" height="75.12" fill="#3e7bd2" />
<rect x="386.79" y="196.69" width="0.70" height="15.01" fill="#3e7bd2" />
<rect x="386.80" y="196.69" width="1.66" height="15.01" fill="#ee8748" />
<rect x="388.45" y="204.24" width="0.70" height="7.46" fill="#ee8748" />
<rect x="388.46" y="204.24" width="1.66" height="7.46" fill="#a9a9a9" />
<rect x="390.11" y="204.24" width="0.70" height="7.46" fill="#a9a9a9" />
<rect x="390.12" y="138.08" width="1.66" height="73.62" fill="#fec11a" />
<rect x="394.40" y="169.70" width="1.66" height="42.00" fill="#3e7bd2" />
<rect x="396.05" y="202.91" width="0.70" height="8.79" fill="#3e7bd2" />
<rect x="396.06" y="202.91" width="1.66" height="8.79" fill="#ee8748" />
<rect x="397.71" y="206.02" width="0.70" height="5.68" fill="#ee8748" />
<rect x="397.72" y="206.02" width="1.66" height="5.68" fill="#a9a9a9" />
<rect x="399.37" y="206.02" width="0.70" height="5.68" fill="#a9a9a9" />
<rect x="399.38" y="138.97" width="1.66" height="72.73" fill="#fec11a" />
<rect x="403.66" y="164.01" width="1.66" height="47.69" fill="#3e7bd2" />
<rect x="405.31" y="203.18" width="0.70" height="8.52" fill="#3e7bd2" />
<rect x="405.32" y="203.18" width="1.66" height="8.52" fill="#ee8748" />
<rect x="406.97" y="206.90" width="0.70" height="4.80" fill="#ee8748" />
<rect x="406.98" y="206.90" width="1.66" height="4.80" fill="#a9a9a9" />
<rect x="408.63" y="206.90" width="0.70" height="4.80" fill="#a9a9a9" />
<rect x="408.64" y="150.34" width="1.66" height="61.36" fill="#fec11a" />
<rect x="412.92" y="164.90" width="1.66" height="46.80" fill="#3e7bd2" />
<rect x="414.57" y="204.51" width="0.70" height="7.19" fill="#3e7bd2" />
<rect x="414.58" y="204.51" width="1.66" height="7.19" fill="#ee8748" />
<rect x="416.23" y="206.02" width="0.70" height="5.68" fill="#ee8748" />
<rect x="416.24" y="206.02" width="1.66" height="5.68" fill="#a9a9a9" />
<rect x="417.89" y="206.02" width="0.70" height="5.68" fill="#a9a9a9" />
<rect x="417.90" y="146.25" width="1.66" height="65.45" fill="#fec11a" />
<rect x="422.18" y="167.12" width="1.66" height="44.58" fill="#3e7bd2" />
<rect x="423.83" y="203.53" width="0.70" height="8.17" fill="#3e7bd2" />
<rect x="423.84" y="203.53" width="1.66" height="8.17" fill="#ee8748" />
<rect x="425.49" y="204.51" width="0.70" height="7.19" fill="#ee8748" />
<rect x="425.50" y="204.51" width="1.66" height="7.19" fill="#a9a9a9" />
<rect x="427.15" y="204.51" width="0.70" height="7.19" fill="#a9a9a9" />
<rect x="427.16" y="154.69" width="1.66" height="57.01" fill="#fec11a" />
<rect x="431.44" y="172.45" width="1.66" height="39.25" fill="#3e7bd2" />
<rect x="433.09" y="204.60" width="0.70" height="7.10" fill="#3e7bd2" />
<rect x="433.10" y="204.60" width="1.66" height="7.10" fill="#ee8748" />
<rect x="434.75" y="204.60" width="0.70" height="7.10" fill="#ee8748" />
<rect x="434.76" y="204.51" width="1.66" height="7.19" fill="#a9a9a9" />
<rect x="436.41" y="204.51" width="0.70" height="7.19" fill="#a9a9a9" />
<rect x="436.42" y="156.38" width="1.66" height="55.32" fill="#fec11a" />
<rect x="440.70" y="177.96" width="1.66" height="33.74" fill="#3e7bd2" />
<rect x="442.35" y="202.64" width="0.70" height="9.06" fill="#3e7bd2" />
<rect x="442.36" y="202.64" width="1.66" height="9.06" fill="#ee8748" />
<rect x="444.01" y="204.15" width="0.70" height="7.55" fill="#ee8748" />
<rect x="444.02" y="204.15" width="1.66" height="7.55" fill="#a9a9a9" />
<rect x="445.67" y="204.15" width="0.70" height="7.55" fill="#a9a9a9" />
<rect x="445.68" y="163.30" width="1.66" height="48.40" fill="#fec11a" />
<rect x="449.96" y="180.98" width="1.66" height="30.72" fill="#3e7bd2" />
<rect x="451.61" y="205.13" width="0.70" height="6.57" fill="#3e7bd2" />
<rect x="451.62" y="205.13" width="1.66" height="6.57" fill="#ee8748" />
<rect x="453.27" y="205.31" width="0.70" height="6.39" fill="#ee8748" />
<rect x="453.28" y="205.31" width="1.66" height="6.39" fill="#a9a9a9" />
<rect x="454.93" y="205.31" width="0.70" height="6.39" fill="#a9a9a9" />
<rect x="454.94" y="171.92" width="1.66" height="39.78" fill="#fec11a" />
<rect x="459.22" y="185.06" width="1.66" height="26.64" fill="#3e7bd2" />
<rect x="460.87" y="205.48" width="0.70" height="6.22" fill="#3e7bd2" />
<rect x="460.88" y="205.48" width="1.66" height="6.22" fill="#ee8748" />
<rect x="462.53" y="205.48" width="0.70" height="6.22" fill="#ee8748" />
<rect x="462.54" y="205.04" width="1.66" height="6.66" fill="#a9a9a9" />
<rect x="464.19" y="205.04" width="0.70" height="6.66" fill="#a9a9a9" />
<rect x="464.20" y="177.96" width="1.66" height="33.74" fill="#fec11a" />
<rect x="468.48" y="189.14" width="1.66" height="22.56" fill="#3e7bd2" />
<rect x="470.13" y="206.90" width="0.70" height="4.80" fill="#3e7bd2" />
<rect x="470.14" y="206.90" width="1.66" height="4.80" fill="#ee8748" />
<rect x="471.79" y="206.90" width="0.70" height="4.80" fill="#ee8748" />
<rect x="471.80" y="205.93" width="1.66" height="5.77" fill="#a9a9a9" />
<rect x="473.45" y="205.93" width="0.70" height="5.77" fill="#a9a9a9" />
<rect x="473.46" y="184.08" width="1.66" height="27.62" fill="#fec11a" />
<rect x="477.74" y="194.12" width="1.66" height="17.58" fill="#3e7bd2" />
<rect x="479.39" y="206.55" width="0.70" height="5.15" fill="#3e7bd2" />
<rect x="479.40" y="206.55" width="1.66" height="5.15" fill="#ee8748" />
<rect x="481.05" y="206.55" width="0.70" height="5.15" fill="#ee8748" />
<rect x="481.06" y="205.93" width="1.66" height="5.77" fill="#a9a9a9" />
<rect x="482.71" y="205.93" width="0.70" height="5.77" fill="#a9a9a9" />
<rect x="482.72" y="186.48" width="1.66" height="25.22" fill="#fec11a" />
<text x="305.10" y="220.33" font-size="5.80" fill="#666" text-anchor="middle">-10</text>
<text x="314.36" y="220.33" font-size="5.80" fill="#666" text-anchor="middle">-9</text>
<text x="323.62" y="220.33" font-size="5.80" fill="#666" text-anchor="middle">-8</text>
<text x="332.88" y="220.33" font-size="5.80" fill="#666" text-anchor="middle">-7</text>
<text x="342.14" y="220.33" font-size="5.80" fill="#666" text-anchor="middle">-6</text>
<text x="351.40" y="220.33" font-size="5.80" fill="#666" text-anchor="middle">-5</text>
<text x="360.66" y="220.33" font-size="5.80" fill="#666" text-anchor="middle">-4</text>
<text x="369.92" y="220.33" font-size="5.80" fill="#666" text-anchor="middle">-3</text>
<text x="379.18" y="220.33" font-size="5.80" fill="#666" text-anchor="middle">-2</text>
<text x="388.44" y="220.33" font-size="5.80" fill="#666" text-anchor="middle">-1</text>
<text x="397.70" y="220.33" font-size="5.80" fill="#666" text-anchor="middle">1</text>
<text x="406.96" y="220.33" font-size="5.80" fill="#666" text-anchor="middle">2</text>
<text x="416.22" y="220.33" font-size="5.80" fill="#666" text-anchor="middle">3</text>
<text x="425.48" y="220.33" font-size="5.80" fill="#666" text-anchor="middle">4</text>
<text x="434.74" y="220.33" font-size="5.80" fill="#666" text-anchor="middle">5</text>
<text x="444.00" y="220.33" font-size="5.80" fill="#666" text-anchor="middle">6</text>
<text x="453.26" y="220.33" font-size="5.80" fill="#666" text-anchor="middle">7</text>
<text x="462.52" y="220.33" font-size="5.80" fill="#666" text-anchor="middle">8</text>
<text x="471.78" y="220.33" font-size="5.80" fill="#666" text-anchor="middle">9</text>
<text x="481.04" y="220.33" font-size="5.80" fill="#666" text-anchor="middle">10</text>
<text x="283.70" y="174.55" font-size="7.00" fill="#666" text-anchor="middle" textLength="20.00" lengthAdjust="spacingAndGlyphs" transform="rotate(-90 283.70 172.10)">Counts</text>
<text x="330.00" y="229.13" font-size="7.80" fill="#666" textLength="106.70" lengthAdjust="spacingAndGlyphs">100 base Windows with TSS at 0</text>
<rect x="498.70" y="209.00" width="5.00" height="5.20" fill="#1862c4" />
<text x="513.00" y="214.61" font-size="8.60" fill="#111" font-weight="bold">G4</text>
<rect x="498.70" y="224.50" width="5.00" height="5.20" fill="#f1625a" />
<text x="513.00" y="230.11" font-size="8.60" fill="#111" font-weight="bold">H-DNA</text>
<rect x="498.70" y="239.00" width="5.00" height="5.20" fill="#b583e0" />
<text x="513.00" y="244.61" font-size="8.60" fill="#111" font-weight="bold">SIDD</text>
<rect x="498.70" y="253.20" width="5.00" height="5.20" fill="#fdb40c" />
<text x="513.00" y="258.81" font-size="8.60" fill="#111" font-weight="bold">Z-DNA</text>
<text x="98.00" y="251.93" font-size="7.26" fill="#555" textLength="103.20" lengthAdjust="spacingAndGlyphs" style="white-space:pre">Flipon  Counts in Proximal  Promoters</text>
<line x1="69.30" y1="329.30" x2="251.80" y2="329.30" stroke="#e6e6e6" stroke-width="0.5"/>
<text x="66.90" y="330.88" font-size="4.50" fill="#999" text-anchor="end">0</text>
<line x1="69.30" y1="322.27" x2="251.80" y2="322.27" stroke="#e6e6e6" stroke-width="0.5"/>
<text x="66.90" y="323.85" font-size="4.50" fill="#999" text-anchor="end">200</text>
<line x1="69.30" y1="315.24" x2="251.80" y2="315.24" stroke="#e6e6e6" stroke-width="0.5"/>
<text x="66.90" y="316.81" font-size="4.50" fill="#999" text-anchor="end">400</text>
<line x1="69.30" y1="308.21" x2="251.80" y2="308.21" stroke="#e6e6e6" stroke-width="0.5"/>
<text x="66.90" y="309.79" font-size="4.50" fill="#999" text-anchor="end">600</text>
<line x1="69.30" y1="301.18" x2="251.80" y2="301.18" stroke="#e6e6e6" stroke-width="0.5"/>
<text x="66.90" y="302.75" font-size="4.50" fill="#999" text-anchor="end">800</text>
<line x1="69.30" y1="294.15" x2="251.80" y2="294.15" stroke="#e6e6e6" stroke-width="0.5"/>
<text x="66.90" y="295.73" font-size="4.50" fill="#999" text-anchor="end">1000</text>
<line x1="69.30" y1="287.12" x2="251.80" y2="287.12" stroke="#e6e6e6" stroke-width="0.5"/>
<text x="66.90" y="288.69" font-size="4.50" fill="#999" text-anchor="end">1200</text>
<line x1="69.30" y1="280.09" x2="251.80" y2="280.09" stroke="#e6e6e6" stroke-width="0.5"/>
<text x="66.90" y="281.67" font-size="4.50" fill="#999" text-anchor="end">1400</text>
<line x1="69.30" y1="273.06" x2="251.80" y2="273.06" stroke="#e6e6e6" stroke-width="0.5"/>
<text x="66.90" y="274.63" font-size="4.50" fill="#999" text-anchor="end">1600</text>
<line x1="69.30" y1="266.03" x2="251.80" y2="266.03" stroke="#e6e6e6" stroke-width="0.5"/>
<text x="66.90" y="267.61" font-size="4.50" fill="#999" text-anchor="end">1800</text>
<line x1="69.30" y1="259.00" x2="251.80" y2="259.00" stroke="#e6e6e6" stroke-width="0.5"/>
<text x="66.90" y="260.57" font-size="4.50" fill="#999" text-anchor="end">2000</text>
<rect x="72.60" y="263.57" width="1.85" height="65.73" fill="#1d63c8" />
<rect x="74.44" y="294.15" width="0.70" height="35.15" fill="#1d63c8" />
<rect x="74.45" y="294.15" width="1.85" height="35.15" fill="#f07028" />
<rect x="76.29" y="301.53" width="0.70" height="27.77" fill="#f07028" />
<rect x="76.30" y="301.53" width="1.85" height="27.77" fill="#a3a19e" />
<rect x="78.14" y="301.53" width="0.70" height="27.77" fill="#a3a19e" />
<rect x="78.15" y="272.01" width="1.85" height="57.29" fill="#ffbd00" />
<rect x="83.87" y="299.77" width="1.85" height="29.53" fill="#1d63c8" />
<rect x="85.71" y="322.27" width="0.70" height="7.03" fill="#1d63c8" />
<rect x="85.72" y="322.27" width="1.85" height="7.03" fill="#f07028" />
<rect x="87.56" y="328.77" width="0.70" height="0.53" fill="#f07028" />
<rect x="87.57" y="328.77" width="1.85" height="0.53" fill="#a3a19e" />
<rect x="89.41" y="328.77" width="0.70" height="0.53" fill="#a3a19e" />
<rect x="89.42" y="299.25" width="1.85" height="30.05" fill="#ffbd00" />
<rect x="95.14" y="314.89" width="1.85" height="14.41" fill="#1d63c8" />
<rect x="96.98" y="327.54" width="0.70" height="1.76" fill="#1d63c8" />
<rect x="96.99" y="327.54" width="1.85" height="1.76" fill="#f07028" />
<rect x="98.83" y="329.12" width="0.70" height="0.18" fill="#f07028" />
<rect x="98.84" y="329.12" width="1.85" height="0.18" fill="#a3a19e" />
<rect x="100.68" y="329.12" width="0.70" height="0.18" fill="#a3a19e" />
<rect x="100.69" y="310.32" width="1.85" height="18.98" fill="#ffbd00" />
<rect x="106.41" y="322.97" width="1.85" height="6.33" fill="#1d63c8" />
<rect x="108.25" y="328.77" width="0.70" height="0.53" fill="#1d63c8" />
<rect x="108.26" y="328.77" width="1.85" height="0.53" fill="#f07028" />
<rect x="110.10" y="329.23" width="0.70" height="0.07" fill="#f07028" />
<rect x="110.11" y="329.23" width="1.85" height="0.07" fill="#a3a19e" />
<rect x="111.95" y="329.23" width="0.70" height="0.07" fill="#a3a19e" />
<rect x="111.96" y="317.00" width="1.85" height="12.30" fill="#ffbd00" />
<rect x="117.68" y="326.77" width="1.85" height="2.53" fill="#1d63c8" />
<rect x="119.52" y="329.12" width="0.70" height="0.18" fill="#1d63c8" />
<rect x="119.53" y="329.12" width="1.85" height="0.18" fill="#f07028" />
<rect x="123.23" y="322.27" width="1.85" height="7.03" fill="#ffbd00" />
<rect x="128.95" y="327.96" width="1.85" height="1.34" fill="#1d63c8" />
<rect x="130.79" y="329.23" width="0.70" height="0.07" fill="#1d63c8" />
<rect x="130.80" y="329.23" width="1.85" height="0.07" fill="#f07028" />
<rect x="134.50" y="324.91" width="1.85" height="4.39" fill="#ffbd00" />
<rect x="140.22" y="328.53" width="1.85" height="0.77" fill="#1d63c8" />
<rect x="145.77" y="326.66" width="1.85" height="2.64" fill="#ffbd00" />
<rect x="151.49" y="328.95" width="1.85" height="0.35" fill="#1d63c8" />
<rect x="157.04" y="327.89" width="1.85" height="1.41" fill="#ffbd00" />
<rect x="162.76" y="329.09" width="1.85" height="0.21" fill="#1d63c8" />
<rect x="168.31" y="328.42" width="1.85" height="0.88" fill="#ffbd00" />
<rect x="174.03" y="329.16" width="1.85" height="0.14" fill="#1d63c8" />
<rect x="179.58" y="328.77" width="1.85" height="0.53" fill="#ffbd00" />
<rect x="185.30" y="329.19" width="1.85" height="0.11" fill="#1d63c8" />
<rect x="190.85" y="328.88" width="1.85" height="0.42" fill="#ffbd00" />
<rect x="196.57" y="329.23" width="1.85" height="0.07" fill="#1d63c8" />
<rect x="202.12" y="328.95" width="1.85" height="0.35" fill="#ffbd00" />
<rect x="207.84" y="329.23" width="1.85" height="0.07" fill="#1d63c8" />
<rect x="213.39" y="329.02" width="1.85" height="0.28" fill="#ffbd00" />
<rect x="224.66" y="329.09" width="1.85" height="0.21" fill="#ffbd00" />
<rect x="235.93" y="329.12" width="1.85" height="0.18" fill="#ffbd00" />
<rect x="247.20" y="329.19" width="1.85" height="0.11" fill="#ffbd00" />
<text x="76.30" y="337.90" font-size="6.00" fill="#6a6a6a" text-anchor="middle">1</text>
<text x="87.57" y="337.90" font-size="6.00" fill="#6a6a6a" text-anchor="middle">2</text>
<text x="98.84" y="337.90" font-size="6.00" fill="#6a6a6a" text-anchor="middle">3</text>
<text x="110.11" y="337.90" font-size="6.00" fill="#6a6a6a" text-anchor="middle">4</text>
<text x="121.38" y="337.90" font-size="6.00" fill="#6a6a6a" text-anchor="middle">5</text>
<text x="132.65" y="337.90" font-size="6.00" fill="#6a6a6a" text-anchor="middle">6</text>
<text x="143.92" y="337.90" font-size="6.00" fill="#6a6a6a" text-anchor="middle">7</text>
<text x="155.19" y="337.90" font-size="6.00" fill="#6a6a6a" text-anchor="middle">8</text>
<text x="166.46" y="337.90" font-size="6.00" fill="#6a6a6a" text-anchor="middle">9</text>
<text x="177.73" y="337.90" font-size="6.00" fill="#6a6a6a" text-anchor="middle">10</text>
<text x="189.00" y="337.90" font-size="6.00" fill="#6a6a6a" text-anchor="middle">11</text>
<text x="200.27" y="337.90" font-size="6.00" fill="#6a6a6a" text-anchor="middle">12</text>
<text x="211.54" y="337.90" font-size="6.00" fill="#6a6a6a" text-anchor="middle">13</text>
<text x="222.81" y="337.90" font-size="6.00" fill="#6a6a6a" text-anchor="middle">14</text>
<text x="234.08" y="337.90" font-size="6.00" fill="#6a6a6a" text-anchor="middle">15</text>
<text x="245.35" y="337.90" font-size="6.00" fill="#6a6a6a" text-anchor="middle">23</text>
<text x="51.90" y="296.23" font-size="5.80" fill="#555" text-anchor="middle" textLength="40.70" lengthAdjust="spacingAndGlyphs" transform="rotate(-90 51.90 294.20)">Promoter Counts</text>
<text x="144.50" y="345.70" font-size="6.00" fill="#666" textLength="33.00" lengthAdjust="spacingAndGlyphs">Flipon Counts</text>
<text x="317.70" y="254.33" font-size="7.26" fill="#555" textLength="127.10" lengthAdjust="spacingAndGlyphs" style="white-space:pre">Flipon+c-mRS  Counts in Proximal  Promoters</text>
<line x1="295.60" y1="331.10" x2="488.50" y2="331.10" stroke="#e6e6e6" stroke-width="0.5"/>
<text x="292.30" y="332.68" font-size="4.50" fill="#999" text-anchor="end">0</text>
<line x1="295.60" y1="324.05" x2="488.50" y2="324.05" stroke="#e6e6e6" stroke-width="0.5"/>
<text x="292.30" y="325.62" font-size="4.50" fill="#999" text-anchor="end">200</text>
<line x1="295.60" y1="317.00" x2="488.50" y2="317.00" stroke="#e6e6e6" stroke-width="0.5"/>
<text x="292.30" y="318.57" font-size="4.50" fill="#999" text-anchor="end">400</text>
<line x1="295.60" y1="309.95" x2="488.50" y2="309.95" stroke="#e6e6e6" stroke-width="0.5"/>
<text x="292.30" y="311.53" font-size="4.50" fill="#999" text-anchor="end">600</text>
<line x1="295.60" y1="302.90" x2="488.50" y2="302.90" stroke="#e6e6e6" stroke-width="0.5"/>
<text x="292.30" y="304.48" font-size="4.50" fill="#999" text-anchor="end">800</text>
<line x1="295.60" y1="295.85" x2="488.50" y2="295.85" stroke="#e6e6e6" stroke-width="0.5"/>
<text x="292.30" y="297.43" font-size="4.50" fill="#999" text-anchor="end">1000</text>
<line x1="295.60" y1="288.80" x2="488.50" y2="288.80" stroke="#e6e6e6" stroke-width="0.5"/>
<text x="292.30" y="290.38" font-size="4.50" fill="#999" text-anchor="end">1200</text>
<line x1="295.60" y1="281.75" x2="488.50" y2="281.75" stroke="#e6e6e6" stroke-width="0.5"/>
<text x="292.30" y="283.32" font-size="4.50" fill="#999" text-anchor="end">1400</text>
<line x1="295.60" y1="274.70" x2="488.50" y2="274.70" stroke="#e6e6e6" stroke-width="0.5"/>
<text x="292.30" y="276.28" font-size="4.50" fill="#999" text-anchor="end">1600</text>
<line x1="295.60" y1="267.65" x2="488.50" y2="267.65" stroke="#e6e6e6" stroke-width="0.5"/>
<text x="292.30" y="269.23" font-size="4.50" fill="#999" text-anchor="end">1800</text>
<line x1="295.60" y1="260.60" x2="488.50" y2="260.60" stroke="#e6e6e6" stroke-width="0.5"/>
<text x="292.30" y="262.18" font-size="4.50" fill="#999" text-anchor="end">2000</text>
<rect x="299.70" y="271.18" width="2.75" height="59.92" fill="#1d63c8" />
<rect x="302.44" y="314.18" width="0.70" height="16.92" fill="#1d63c8" />
<rect x="302.45" y="314.18" width="2.75" height="16.92" fill="#f07028" />
<rect x="305.19" y="314.18" width="0.70" height="16.92" fill="#f07028" />
<rect x="305.20" y="304.66" width="2.75" height="26.44" fill="#a3a19e" />
<rect x="307.94" y="304.66" width="0.70" height="26.44" fill="#a3a19e" />
<rect x="307.95" y="276.11" width="2.75" height="54.99" fill="#ffbd00" />
<rect x="317.08" y="311.89" width="2.75" height="19.21" fill="#1d63c8" />
<rect x="319.82" y="329.34" width="0.70" height="1.76" fill="#1d63c8" />
<rect x="319.83" y="329.34" width="2.75" height="1.76" fill="#f07028" />
<rect x="322.57" y="330.75" width="0.70" height="0.35" fill="#f07028" />
<rect x="322.58" y="330.75" width="2.75" height="0.35" fill="#a3a19e" />
<rect x="325.32" y="330.75" width="0.70" height="0.35" fill="#a3a19e" />
<rect x="325.33" y="313.12" width="2.75" height="17.98" fill="#ffbd00" />
<rect x="334.46" y="324.75" width="2.75" height="6.34" fill="#1d63c8" />
<rect x="337.20" y="330.92" width="0.70" height="0.18" fill="#1d63c8" />
<rect x="337.21" y="330.92" width="2.75" height="0.18" fill="#f07028" />
<rect x="339.95" y="330.99" width="0.70" height="0.11" fill="#f07028" />
<rect x="339.96" y="330.99" width="2.75" height="0.11" fill="#a3a19e" />
<rect x="342.70" y="330.99" width="0.70" height="0.11" fill="#a3a19e" />
<rect x="342.71" y="324.75" width="2.75" height="6.34" fill="#ffbd00" />
<rect x="351.84" y="329.34" width="2.75" height="1.76" fill="#1d63c8" />
<rect x="354.58" y="331.03" width="0.70" height="0.07" fill="#1d63c8" />
<rect x="354.59" y="331.03" width="2.75" height="0.07" fill="#f07028" />
<rect x="360.09" y="329.16" width="2.75" height="1.94" fill="#ffbd00" />
<rect x="369.22" y="330.40" width="2.75" height="0.70" fill="#1d63c8" />
<rect x="377.47" y="329.87" width="2.75" height="1.23" fill="#ffbd00" />
<rect x="386.60" y="330.82" width="2.75" height="0.28" fill="#1d63c8" />
<rect x="394.85" y="330.57" width="2.75" height="0.53" fill="#ffbd00" />
<rect x="403.98" y="330.96" width="2.75" height="0.14" fill="#1d63c8" />
<rect x="412.23" y="330.89" width="2.75" height="0.21" fill="#ffbd00" />
<rect x="421.36" y="331.03" width="2.75" height="0.07" fill="#1d63c8" />
<rect x="429.61" y="330.99" width="2.75" height="0.11" fill="#ffbd00" />
<rect x="446.99" y="331.03" width="2.75" height="0.07" fill="#ffbd00" />
<text x="305.20" y="339.80" font-size="6.00" fill="#6a6a6a" text-anchor="middle">1</text>
<text x="322.58" y="339.80" font-size="6.00" fill="#6a6a6a" text-anchor="middle">2</text>
<text x="339.96" y="339.80" font-size="6.00" fill="#6a6a6a" text-anchor="middle">3</text>
<text x="357.34" y="339.80" font-size="6.00" fill="#6a6a6a" text-anchor="middle">4</text>
<text x="374.72" y="339.80" font-size="6.00" fill="#6a6a6a" text-anchor="middle">5</text>
<text x="392.10" y="339.80" font-size="6.00" fill="#6a6a6a" text-anchor="middle">6</text>
<text x="409.48" y="339.80" font-size="6.00" fill="#6a6a6a" text-anchor="middle">7</text>
<text x="426.86" y="339.80" font-size="6.00" fill="#6a6a6a" text-anchor="middle">8</text>
<text x="444.24" y="339.80" font-size="6.00" fill="#6a6a6a" text-anchor="middle">9</text>
<text x="461.62" y="339.80" font-size="6.00" fill="#6a6a6a" text-anchor="middle">12</text>
<text x="479.00" y="339.80" font-size="6.00" fill="#6a6a6a" text-anchor="middle">22</text>
<text x="277.70" y="298.23" font-size="5.80" fill="#555" text-anchor="middle" textLength="41.20" lengthAdjust="spacingAndGlyphs" transform="rotate(-90 277.70 296.20)">Promoter Counts</text>
<text x="375.80" y="347.00" font-size="6.00" fill="#666" textLength="33.10" lengthAdjust="spacingAndGlyphs">Flipon Counts</text>
<text x="30.00" y="371.97" font-size="8.20" fill="#111" font-weight="bold" textLength="226.40" lengthAdjust="spacingAndGlyphs" stroke="#111" stroke-width="0.22">G Flipons in Proximal Promoters of Protein Coding Genes</text>
<line x1="163.97" y1="390.50" x2="163.97" y2="521.80" stroke="#ececec" stroke-width="0.5"/>
<line x1="186.64" y1="390.50" x2="186.64" y2="521.80" stroke="#ececec" stroke-width="0.5"/>
<line x1="209.31" y1="390.50" x2="209.31" y2="521.80" stroke="#ececec" stroke-width="0.5"/>
<line x1="231.98" y1="390.50" x2="231.98" y2="521.80" stroke="#ececec" stroke-width="0.5"/>
<line x1="254.65" y1="390.50" x2="254.65" y2="521.80" stroke="#ececec" stroke-width="0.5"/>
<rect x="141.30" y="390.50" width="136.40" height="131.30" fill="none" stroke="#a8a8a8" stroke-width="0.7"/>
<rect x="141.30" y="392.30" width="116.38" height="5.9" fill="#fcf0cb" stroke="#aaa395" stroke-width="0.6"/>
<text x="136.50" y="397.45" font-size="5.48" fill="#4a4a4a" text-anchor="end" textLength="111.46" lengthAdjust="spacingAndGlyphs">GO:0007275~multicellular organism development</text>
<text x="260.68" y="397.57" font-size="5.94" fill="#3a3a3a" textLength="16.21" lengthAdjust="spacingAndGlyphs">102.67</text>
<rect x="141.30" y="401.70" width="78.18" height="5.9" fill="#fcf0cb" stroke="#aaa395" stroke-width="0.6"/>
<text x="136.50" y="406.85" font-size="5.48" fill="#4a4a4a" text-anchor="end" textLength="101.43" lengthAdjust="spacingAndGlyphs">CARBOHYD:N-linked (GlcNAc...) asparagine</text>
<text x="222.48" y="406.97" font-size="5.94" fill="#3a3a3a" textLength="13.26" lengthAdjust="spacingAndGlyphs">68.97</text>
<rect x="141.30" y="411.10" width="72.05" height="5.9" fill="#fcf0cb" stroke="#aaa395" stroke-width="0.6"/>
<text x="136.50" y="416.25" font-size="5.48" fill="#4a4a4a" text-anchor="end" textLength="82.72" lengthAdjust="spacingAndGlyphs">GO:0098978~glutamatergic synapse</text>
<text x="216.35" y="416.37" font-size="5.94" fill="#3a3a3a" textLength="13.26" lengthAdjust="spacingAndGlyphs">63.56</text>
<rect x="141.30" y="420.50" width="60.93" height="5.9" fill="#fcf0cb" stroke="#aaa395" stroke-width="0.6"/>
<text x="136.50" y="425.65" font-size="5.48" fill="#4a4a4a" text-anchor="end" textLength="50.88" lengthAdjust="spacingAndGlyphs">GO:0045202~synapse</text>
<text x="205.23" y="425.77" font-size="5.94" fill="#3a3a3a" textLength="13.26" lengthAdjust="spacingAndGlyphs">53.75</text>
<rect x="141.30" y="429.90" width="58.65" height="5.9" fill="#fcf0cb" stroke="#aaa395" stroke-width="0.6"/>
<text x="136.50" y="435.05" font-size="5.48" fill="#4a4a4a" text-anchor="end" textLength="86.80" lengthAdjust="spacingAndGlyphs">IPR017970:Homeobox, conserved site</text>
<text x="202.95" y="435.17" font-size="5.94" fill="#3a3a3a" textLength="13.26" lengthAdjust="spacingAndGlyphs">51.74</text>
<rect x="141.30" y="439.30" width="49.91" height="5.9" fill="#fcf0cb" stroke="#aaa395" stroke-width="0.6"/>
<text x="136.50" y="444.45" font-size="5.48" fill="#4a4a4a" text-anchor="end" textLength="50.32" lengthAdjust="spacingAndGlyphs">GO:0030425~dendrite</text>
<text x="194.21" y="444.57" font-size="5.94" fill="#3a3a3a" textLength="13.26" lengthAdjust="spacingAndGlyphs">44.03</text>
<rect x="141.30" y="448.70" width="43.24" height="5.9" fill="#fcf0cb" stroke="#aaa395" stroke-width="0.6"/>
<text x="136.50" y="453.85" font-size="5.48" fill="#4a4a4a" text-anchor="end" textLength="42.99" lengthAdjust="spacingAndGlyphs">GO:0030424~axon</text>
<text x="187.54" y="453.97" font-size="5.94" fill="#3a3a3a" textLength="13.26" lengthAdjust="spacingAndGlyphs">38.15</text>
<rect x="141.30" y="458.10" width="36.42" height="5.9" fill="#fcf0cb" stroke="#aaa395" stroke-width="0.6"/>
<text x="136.50" y="463.25" font-size="5.48" fill="#4a4a4a" text-anchor="end" textLength="58.49" lengthAdjust="spacingAndGlyphs">GO:0030054~cell junction</text>
<text x="180.72" y="463.37" font-size="5.94" fill="#3a3a3a" textLength="13.26" lengthAdjust="spacingAndGlyphs">32.13</text>
<rect x="141.30" y="467.50" width="21.17" height="5.9" fill="#fcf0cb" stroke="#aaa395" stroke-width="0.6"/>
<text x="136.50" y="472.65" font-size="5.48" fill="#4a4a4a" text-anchor="end" textLength="79.05" lengthAdjust="spacingAndGlyphs">GO:0098982~GABA-ergic synapse</text>
<text x="165.47" y="472.77" font-size="5.94" fill="#3a3a3a" textLength="13.26" lengthAdjust="spacingAndGlyphs">18.68</text>
<rect x="141.30" y="476.90" width="21.16" height="5.9" fill="#fcf0cb" stroke="#aaa395" stroke-width="0.6"/>
<text x="136.50" y="482.05" font-size="5.48" fill="#4a4a4a" text-anchor="end" textLength="90.18" lengthAdjust="spacingAndGlyphs">IPR001849:Pleckstrin homology domain</text>
<text x="165.46" y="482.17" font-size="5.94" fill="#3a3a3a" textLength="13.26" lengthAdjust="spacingAndGlyphs">18.67</text>
<rect x="141.30" y="486.30" width="19.21" height="5.9" fill="#fcf0cb" stroke="#aaa395" stroke-width="0.6"/>
<text x="136.50" y="491.45" font-size="5.48" fill="#4a4a4a" text-anchor="end" textLength="106.97" lengthAdjust="spacingAndGlyphs">GO:0005244~voltage-gated ion channel activity</text>
<text x="163.51" y="491.57" font-size="5.94" fill="#3a3a3a" textLength="13.26" lengthAdjust="spacingAndGlyphs">16.95</text>
<rect x="141.30" y="495.70" width="16.64" height="5.9" fill="#fcf0cb" stroke="#aaa395" stroke-width="0.6"/>
<text x="136.50" y="500.85" font-size="5.48" fill="#4a4a4a" text-anchor="end" textLength="80.61" lengthAdjust="spacingAndGlyphs">mmu04015:Rap1 signaling pathway</text>
<text x="160.94" y="500.97" font-size="5.94" fill="#3a3a3a" textLength="13.26" lengthAdjust="spacingAndGlyphs">14.68</text>
<rect x="141.30" y="505.10" width="14.46" height="5.9" fill="#fcf0cb" stroke="#aaa395" stroke-width="0.6"/>
<text x="136.50" y="510.25" font-size="5.48" fill="#4a4a4a" text-anchor="end" textLength="81.73" lengthAdjust="spacingAndGlyphs">mmu04390:Hippo signaling pathway</text>
<text x="158.76" y="510.37" font-size="5.94" fill="#3a3a3a" textLength="13.26" lengthAdjust="spacingAndGlyphs">12.76</text>
<rect x="141.30" y="514.50" width="13.27" height="5.9" fill="#fcf0cb" stroke="#aaa395" stroke-width="0.6"/>
<text x="136.50" y="519.65" font-size="5.48" fill="#4a4a4a" text-anchor="end" textLength="82.72" lengthAdjust="spacingAndGlyphs">GO:0016055~Wnt signaling pathway</text>
<text x="157.57" y="519.77" font-size="5.94" fill="#3a3a3a" textLength="12.87" lengthAdjust="spacingAndGlyphs">11.71</text>
<text x="141.30" y="530.59" font-size="5.40" fill="#555" text-anchor="middle">0</text>
<text x="163.97" y="530.59" font-size="5.40" fill="#555" text-anchor="middle">20</text>
<text x="186.64" y="530.59" font-size="5.40" fill="#555" text-anchor="middle">40</text>
<text x="209.31" y="530.59" font-size="5.40" fill="#555" text-anchor="middle">60</text>
<text x="231.98" y="530.59" font-size="5.40" fill="#555" text-anchor="middle">80</text>
<text x="254.65" y="530.59" font-size="5.40" fill="#555" text-anchor="middle">100</text>
<text x="277.32" y="530.59" font-size="5.40" fill="#555" text-anchor="middle">120</text>
<text x="194.10" y="539.78" font-size="6.80" fill="#444" font-weight="bold" textLength="30.00" lengthAdjust="spacingAndGlyphs">-log(FDR)</text>
<text x="76.00" y="539.84" font-size="6.40" fill="#111" font-weight="bold" textLength="25.50" lengthAdjust="spacingAndGlyphs">n = 2726</text>
<text x="302.20" y="371.97" font-size="8.20" fill="#111" font-weight="bold" textLength="226.00" lengthAdjust="spacingAndGlyphs" stroke="#111" stroke-width="0.22">Z Flipons in Proximal Promoters of Protein Coding Genes</text>
<line x1="416.96" y1="390.80" x2="416.96" y2="522.40" stroke="#ececec" stroke-width="0.5"/>
<line x1="436.32" y1="390.80" x2="436.32" y2="522.40" stroke="#ececec" stroke-width="0.5"/>
<line x1="455.68" y1="390.80" x2="455.68" y2="522.40" stroke="#ececec" stroke-width="0.5"/>
<line x1="475.04" y1="390.80" x2="475.04" y2="522.40" stroke="#ececec" stroke-width="0.5"/>
<line x1="494.40" y1="390.80" x2="494.40" y2="522.40" stroke="#ececec" stroke-width="0.5"/>
<line x1="513.76" y1="390.80" x2="513.76" y2="522.40" stroke="#ececec" stroke-width="0.5"/>
<rect x="397.60" y="390.80" width="135.50" height="131.60" fill="none" stroke="#a8a8a8" stroke-width="0.7"/>
<rect x="397.60" y="392.60" width="112.30" height="5.9" fill="#c8c8f6" stroke="#8e8eb8" stroke-width="0.6"/>
<text x="392.90" y="397.75" font-size="5.48" fill="#4a4a4a" text-anchor="end" textLength="111.46" lengthAdjust="spacingAndGlyphs">GO:0007275~multicellular organism development</text>
<text x="512.90" y="397.87" font-size="5.94" fill="#3a3a3a" textLength="15.82" lengthAdjust="spacingAndGlyphs">116.01</text>
<rect x="397.60" y="402.00" width="80.86" height="5.9" fill="#c8c8f6" stroke="#8e8eb8" stroke-width="0.6"/>
<text x="392.90" y="407.15" font-size="5.48" fill="#4a4a4a" text-anchor="end" textLength="101.43" lengthAdjust="spacingAndGlyphs">CARBOHYD:N-linked (GlcNAc...) asparagine</text>
<text x="481.46" y="407.27" font-size="5.94" fill="#3a3a3a" textLength="13.26" lengthAdjust="spacingAndGlyphs">83.53</text>
<rect x="397.60" y="411.40" width="63.20" height="5.9" fill="#c8c8f6" stroke="#8e8eb8" stroke-width="0.6"/>
<text x="392.90" y="416.55" font-size="5.48" fill="#4a4a4a" text-anchor="end" textLength="82.72" lengthAdjust="spacingAndGlyphs">GO:0098978~glutamatergic synapse</text>
<text x="463.80" y="416.67" font-size="5.94" fill="#3a3a3a" textLength="13.26" lengthAdjust="spacingAndGlyphs">65.29</text>
<rect x="397.60" y="420.80" width="47.47" height="5.9" fill="#c8c8f6" stroke="#8e8eb8" stroke-width="0.6"/>
<text x="392.90" y="425.95" font-size="5.48" fill="#4a4a4a" text-anchor="end" textLength="50.88" lengthAdjust="spacingAndGlyphs">GO:0045202~synapse</text>
<text x="448.07" y="426.07" font-size="5.94" fill="#3a3a3a" textLength="13.26" lengthAdjust="spacingAndGlyphs">49.04</text>
<rect x="397.60" y="430.20" width="43.25" height="5.9" fill="#c8c8f6" stroke="#8e8eb8" stroke-width="0.6"/>
<text x="392.90" y="435.35" font-size="5.48" fill="#4a4a4a" text-anchor="end" textLength="86.80" lengthAdjust="spacingAndGlyphs">IPR017970:Homeobox, conserved site</text>
<text x="443.85" y="435.47" font-size="5.94" fill="#3a3a3a" textLength="13.26" lengthAdjust="spacingAndGlyphs">44.68</text>
<rect x="397.60" y="439.60" width="40.03" height="5.9" fill="#c8c8f6" stroke="#8e8eb8" stroke-width="0.6"/>
<text x="392.90" y="444.75" font-size="5.48" fill="#4a4a4a" text-anchor="end" textLength="50.32" lengthAdjust="spacingAndGlyphs">GO:0030425~dendrite</text>
<text x="440.63" y="444.87" font-size="5.94" fill="#3a3a3a" textLength="13.26" lengthAdjust="spacingAndGlyphs">41.35</text>
<rect x="397.60" y="449.00" width="36.23" height="5.9" fill="#c8c8f6" stroke="#8e8eb8" stroke-width="0.6"/>
<text x="392.90" y="454.15" font-size="5.48" fill="#4a4a4a" text-anchor="end" textLength="42.99" lengthAdjust="spacingAndGlyphs">GO:0030424~axon</text>
<text x="436.83" y="454.27" font-size="5.94" fill="#3a3a3a" textLength="13.26" lengthAdjust="spacingAndGlyphs">37.43</text>
<rect x="397.60" y="458.40" width="26.34" height="5.9" fill="#c8c8f6" stroke="#8e8eb8" stroke-width="0.6"/>
<text x="392.90" y="463.55" font-size="5.48" fill="#4a4a4a" text-anchor="end" textLength="58.49" lengthAdjust="spacingAndGlyphs">GO:0030054~cell junction</text>
<text x="426.94" y="463.67" font-size="5.94" fill="#3a3a3a" textLength="13.26" lengthAdjust="spacingAndGlyphs">27.21</text>
<rect x="397.60" y="467.80" width="21.71" height="5.9" fill="#c8c8f6" stroke="#8e8eb8" stroke-width="0.6"/>
<text x="392.90" y="472.95" font-size="5.48" fill="#4a4a4a" text-anchor="end" textLength="79.05" lengthAdjust="spacingAndGlyphs">GO:0098982~GABA-ergic synapse</text>
<text x="422.31" y="473.07" font-size="5.94" fill="#3a3a3a" textLength="13.26" lengthAdjust="spacingAndGlyphs">22.43</text>
<rect x="397.60" y="477.20" width="21.33" height="5.9" fill="#c8c8f6" stroke="#8e8eb8" stroke-width="0.6"/>
<text x="392.90" y="482.35" font-size="5.48" fill="#4a4a4a" text-anchor="end" textLength="90.18" lengthAdjust="spacingAndGlyphs">IPR001849:Pleckstrin homology domain</text>
<text x="421.93" y="482.47" font-size="5.94" fill="#3a3a3a" textLength="13.26" lengthAdjust="spacingAndGlyphs">22.03</text>
<rect x="397.60" y="486.60" width="17.58" height="5.9" fill="#c8c8f6" stroke="#8e8eb8" stroke-width="0.6"/>
<text x="392.90" y="491.75" font-size="5.48" fill="#4a4a4a" text-anchor="end" textLength="106.97" lengthAdjust="spacingAndGlyphs">GO:0005244~voltage-gated ion channel activity</text>
<text x="418.18" y="491.87" font-size="5.94" fill="#3a3a3a" textLength="13.26" lengthAdjust="spacingAndGlyphs">18.16</text>
<rect x="397.60" y="496.00" width="16.96" height="5.9" fill="#c8c8f6" stroke="#8e8eb8" stroke-width="0.6"/>
<text x="392.90" y="501.15" font-size="5.48" fill="#4a4a4a" text-anchor="end" textLength="80.61" lengthAdjust="spacingAndGlyphs">mmu04015:Rap1 signaling pathway</text>
<text x="417.56" y="501.27" font-size="5.94" fill="#3a3a3a" textLength="13.26" lengthAdjust="spacingAndGlyphs">17.52</text>
<rect x="397.60" y="505.40" width="15.63" height="5.9" fill="#c8c8f6" stroke="#8e8eb8" stroke-width="0.6"/>
<text x="392.90" y="510.55" font-size="5.48" fill="#4a4a4a" text-anchor="end" textLength="81.73" lengthAdjust="spacingAndGlyphs">mmu04390:Hippo signaling pathway</text>
<text x="416.23" y="510.67" font-size="5.94" fill="#3a3a3a" textLength="13.26" lengthAdjust="spacingAndGlyphs">16.15</text>
<rect x="397.60" y="514.80" width="12.55" height="5.9" fill="#c8c8f6" stroke="#8e8eb8" stroke-width="0.6"/>
<text x="392.90" y="519.95" font-size="5.48" fill="#4a4a4a" text-anchor="end" textLength="82.72" lengthAdjust="spacingAndGlyphs">GO:0016055~Wnt signaling pathway</text>
<text x="413.15" y="520.07" font-size="5.94" fill="#3a3a3a" textLength="13.26" lengthAdjust="spacingAndGlyphs">12.97</text>
<text x="397.60" y="531.19" font-size="5.40" fill="#555" text-anchor="middle">0</text>
<text x="416.96" y="531.19" font-size="5.40" fill="#555" text-anchor="middle">20</text>
<text x="436.32" y="531.19" font-size="5.40" fill="#555" text-anchor="middle">40</text>
<text x="455.68" y="531.19" font-size="5.40" fill="#555" text-anchor="middle">60</text>
<text x="475.04" y="531.19" font-size="5.40" fill="#555" text-anchor="middle">80</text>
<text x="494.40" y="531.19" font-size="5.40" fill="#555" text-anchor="middle">100</text>
<text x="513.76" y="531.19" font-size="5.40" fill="#555" text-anchor="middle">120</text>
<text x="533.12" y="531.19" font-size="5.40" fill="#555" text-anchor="middle">140</text>
<text x="450.50" y="540.38" font-size="6.80" fill="#444" font-weight="bold" textLength="29.70" lengthAdjust="spacingAndGlyphs">-log(FDR)</text>
<text x="335.00" y="539.84" font-size="6.40" fill="#111" font-weight="bold" textLength="25.00" lengthAdjust="spacingAndGlyphs">n = 2997</text>
</svg></body></html>
